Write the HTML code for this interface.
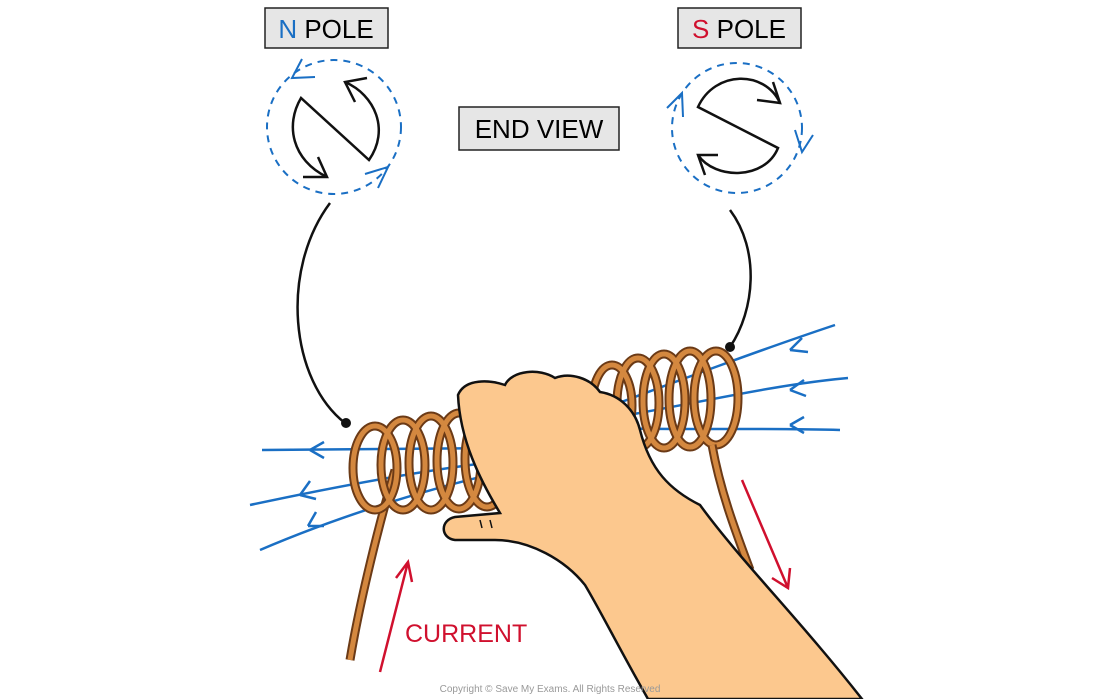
<!DOCTYPE html>
<html><head><meta charset="utf-8"><style>
html,body{margin:0;padding:0;background:#fff;}
svg{display:block;}
text{font-family:"Liberation Sans",sans-serif;}
</style></head><body>
<svg width="1100" height="699" viewBox="0 0 1100 699" xmlns="http://www.w3.org/2000/svg">
<!-- labels -->
<rect x="265" y="8" width="123" height="40" fill="#e6e6e6" stroke="#222" stroke-width="1.5"/>
<text x="326" y="38" font-size="26" text-anchor="middle"><tspan fill="#1a6fc4">N</tspan> POLE</text>
<rect x="678" y="8" width="123" height="40" fill="#e6e6e6" stroke="#222" stroke-width="1.5"/>
<text x="739" y="38" font-size="26" text-anchor="middle"><tspan fill="#d0102e">S</tspan> POLE</text>
<rect x="459" y="107" width="160" height="43" fill="#e6e6e6" stroke="#222" stroke-width="1.5"/>
<text x="539" y="138" font-size="26" text-anchor="middle">END  VIEW</text>

<!-- N circle -->
<circle cx="334" cy="127" r="67" fill="none" stroke="#1a6fc4" stroke-width="2" stroke-dasharray="7,6"/>
<path d="M302,59 L292,78 L315,77" stroke="#1a6fc4" stroke-width="2" fill="none"/>
<path d="M365,174 L388,167 L378,188" stroke="#1a6fc4" stroke-width="2" fill="none"/>
<path d="M345,82 C375,95 390,130 369,160 L301,98 C285,125 292,160 327,177" fill="none" stroke="#111" stroke-width="2.5"/>
<path d="M367,78 L345,82 L355,102" fill="none" stroke="#111" stroke-width="2.5"/>
<path d="M303,177 L327,177 L318,157" fill="none" stroke="#111" stroke-width="2.5"/>

<!-- S circle -->
<circle cx="737" cy="128" r="65" fill="none" stroke="#1a6fc4" stroke-width="2" stroke-dasharray="7,6"/>
<path d="M667,108 L682,93 L683,117" stroke="#1a6fc4" stroke-width="2" fill="none"/>
<path d="M795,130 L802,152 L813,135" stroke="#1a6fc4" stroke-width="2" fill="none"/>
<path d="M780,103 C765,70 715,70 698,107 L778,148 C765,180 715,180 698,155" fill="none" stroke="#111" stroke-width="2.5"/>
<path d="M757,100 L780,103 L773,82" fill="none" stroke="#111" stroke-width="2.5"/>
<path d="M718,155 L698,155 L705,175" fill="none" stroke="#111" stroke-width="2.5"/>

<!-- connectors -->
<path d="M330,203 C280,270 290,380 345,423" fill="none" stroke="#111" stroke-width="2.5"/>
<circle cx="346" cy="423" r="5" fill="#111"/>
<path d="M730,210 C760,250 755,310 730,347" fill="none" stroke="#111" stroke-width="2.5"/>
<circle cx="730" cy="347" r="5" fill="#111"/>

<!-- field lines -->
<g stroke="#1a6fc4" stroke-width="2.5" fill="none">
<path d="M510,448 C420,448 330,450 262,450"/>
<path d="M510,460 C420,470 320,490 250,505"/>
<path d="M510,470 C420,490 330,520 260,550"/>
<path d="M310,450 l14,-8 M310,450 l14,8"/>
<path d="M300,495 l10,-14 M300,495 l16,4"/>
<path d="M308,526 l8,-14 M308,526 l16,0"/>
<path d="M600,410 C680,380 760,350 835,325"/>
<path d="M600,420 C690,405 770,385 848,378"/>
<path d="M600,428 C690,430 770,428 840,430"/>
<path d="M790,350 l12,-12 M790,350 l18,2"/>
<path d="M790,390 l14,-10 M790,390 l16,6"/>
<path d="M790,425 l14,-8 M790,425 l14,8"/>
</g>

<path d="M395,470 C380,520 360,600 350,660" fill="none" stroke="#6b3a16" stroke-width="9"/>
<path d="M395,470 C380,520 360,600 350,660" fill="none" stroke="#d4883f" stroke-width="5"/>
<g fill="none">
<g stroke="#6b3a16" stroke-width="9">
<ellipse cx="375" cy="468" rx="22" ry="42"/><ellipse cx="403" cy="465" rx="22" ry="45"/><ellipse cx="431" cy="463" rx="22" ry="47"/><ellipse cx="459" cy="461" rx="22" ry="48"/><ellipse cx="487" cy="459" rx="22" ry="48"/><ellipse cx="510" cy="458" rx="18" ry="40"/>
<ellipse cx="612" cy="405" rx="20" ry="40"/><ellipse cx="638" cy="403" rx="21" ry="45"/><ellipse cx="664" cy="401" rx="21" ry="47"/><ellipse cx="690" cy="399" rx="21" ry="48"/><ellipse cx="716" cy="398" rx="22" ry="47"/>
</g>
<g stroke="#d4883f" stroke-width="5">
<ellipse cx="375" cy="468" rx="22" ry="42"/><ellipse cx="403" cy="465" rx="22" ry="45"/><ellipse cx="431" cy="463" rx="22" ry="47"/><ellipse cx="459" cy="461" rx="22" ry="48"/><ellipse cx="487" cy="459" rx="22" ry="48"/><ellipse cx="510" cy="458" rx="18" ry="40"/>
<ellipse cx="612" cy="405" rx="20" ry="40"/><ellipse cx="638" cy="403" rx="21" ry="45"/><ellipse cx="664" cy="401" rx="21" ry="47"/><ellipse cx="690" cy="399" rx="21" ry="48"/><ellipse cx="716" cy="398" rx="22" ry="47"/>
</g>
</g>
<path d="M712,445 C720,490 735,530 750,570" fill="none" stroke="#6b3a16" stroke-width="9"/>
<path d="M712,445 C720,490 735,530 750,570" fill="none" stroke="#d4883f" stroke-width="5"/>

<!-- hand -->
<path d="M458,395 C465,378 490,380 505,385 C512,370 540,368 555,378 C570,372 590,378 600,392 C620,395 635,410 640,430 C650,470 670,490 700,505 C740,560 800,620 862,699 L648,699 C620,650 600,610 585,585 C565,560 530,540 495,540 L455,540 C440,538 440,520 455,517 L500,513 C480,480 460,440 458,395 Z" fill="#fcc88e" stroke="#111" stroke-width="2.5"/>
<path d="M480,520 l2,8 M490,520 l2,8" stroke="#111" stroke-width="1.5"/>

<g stroke="#d0102e" stroke-width="2.5" fill="none">
<path d="M380,672 L408,562 M396,578 l12,-16 l4,20"/>
<path d="M742,480 L788,588 M772,578 l16,10 l2,-20"/>
</g>
<text x="405" y="642" font-size="25" fill="#d0102e">CURRENT</text>
<text x="550" y="692" font-size="10" fill="#999" text-anchor="middle">Copyright © Save My Exams. All Rights Reserved</text>
</svg>
</body></html>
